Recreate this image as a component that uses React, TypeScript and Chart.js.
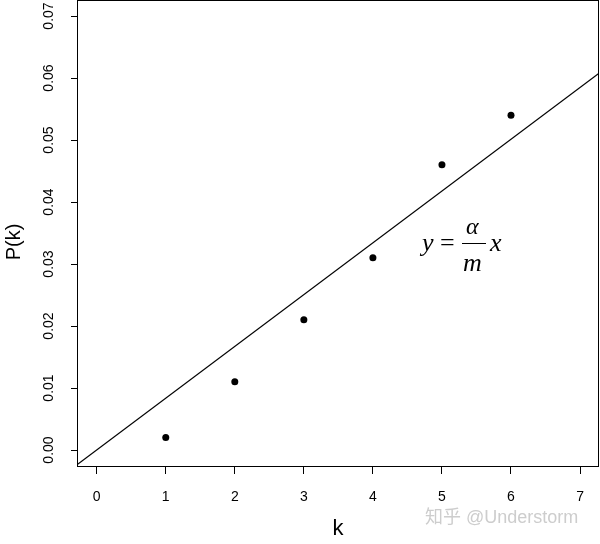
import React, { useEffect, useRef } from "react";
import { Chart, registerables } from "chart.js";

Chart.register(...registerables);

const kValues = [1, 2, 3, 4, 5, 6];
const pValues = [0.002, 0.011, 0.021, 0.031, 0.046, 0.054];
const lineK = [-0.3, 7.3];
const lineP = [-0.0025, 0.061];
const xTicks = [0, 1, 2, 3, 4, 5, 6, 7];
const yTicks = [0, 0.01, 0.02, 0.03, 0.04, 0.05, 0.06, 0.07];
const yTickLabels = ["0.00", "0.01", "0.02", "0.03", "0.04", "0.05", "0.06", "0.07"];
const xTitle = "k";
const yTitle = "P(k)";
const watermark = "知乎 @Understorm";

const extras = {
  id: "extras",
  afterDraw(chart: any) {
    const ctx = chart.ctx;
    const a = chart.chartArea;
    ctx.save();
    ctx.strokeStyle = "#000";
    ctx.lineWidth = 1;
    ctx.strokeRect(a.left - 0.5, a.top - 0.5, a.right - a.left + 1, a.bottom - a.top);
    // y axis title
    ctx.fillStyle = "#000";
    ctx.save();
    ctx.translate(14, 242);
    ctx.rotate(-Math.PI / 2);
    ctx.font = "20px 'Liberation Sans'";
    ctx.textAlign = "center";
    ctx.textBaseline = "middle";
    ctx.fillText(yTitle, 0, 0);
    ctx.restore();
    // equation
    ctx.font = "italic 26px 'Liberation Serif'";
    ctx.textBaseline = "alphabetic";
    ctx.textAlign = "left";
    ctx.fillText("y", 422, 251);
    ctx.fillText("x", 490, 251);
    ctx.fillText("m", 463, 271);
    ctx.font = "italic 24px 'Liberation Serif'";
    ctx.fillText("α", 466, 234);
    ctx.font = "26px 'Liberation Serif'";
    ctx.fillText("=", 440, 251);
    ctx.beginPath();
    ctx.moveTo(462, 243.5);
    ctx.lineTo(486, 243.5);
    ctx.stroke();
    // watermark
    ctx.font = "18px 'Liberation Sans', 'Noto Sans CJK SC'";
    ctx.fillStyle = "#cdcdcd";
    ctx.textAlign = "left";
    ctx.textBaseline = "middle";
    ctx.fillText(watermark, 425, 518);
    ctx.restore();
  },
};

export default function App() {
  const ref = useRef<HTMLCanvasElement | null>(null);
  useEffect(() => {
    if (!ref.current) return;
    const chart = new Chart(ref.current, {
      type: "scatter",
      data: {
        datasets: [
          {
            type: "scatter",
            data: kValues.map((k, i) => ({ x: k, y: pValues[i] })),
            backgroundColor: "#000",
            borderColor: "#000",
            pointRadius: 3.5,
            borderWidth: 0,
          },
          {
            type: "line",
            data: lineK.map((k, i) => ({ x: k, y: lineP[i] })),
            borderColor: "#000",
            borderWidth: 1.2,
            pointRadius: 0,
            fill: false,
          } as any,
        ],
      },
      options: {
        responsive: false,
        animation: false,
        devicePixelRatio: 1,
        layout: { autoPadding: false, padding: { top: 1, right: 2, left: 0, bottom: 0 } },
        plugins: { legend: { display: false }, tooltip: { enabled: false } },
        scales: {
          x: {
            type: "linear",
            min: -0.271,
            max: 7.26,
            afterBuildTicks: (s: any) => {
              s.ticks = xTicks.map((v) => ({ value: v }));
            },
            afterFit: (s: any) => {
              s.height = 77;
              s.paddingLeft = 0;
              s.paddingRight = 0;
            },
            grid: { drawOnChartArea: false, drawTicks: true, tickLength: 7, color: "#000" },
            border: { display: false },
            ticks: {
              color: "#000",
              font: { family: "'Liberation Sans'", size: 14 },
              padding: 15,
              maxRotation: 0,
              autoSkip: false,
              callback: (v: any) => String(v),
            },
            title: {
              display: true,
              text: xTitle,
              color: "#000",
              font: { family: "'Liberation Sans'", size: 22 },
              padding: { top: 0, bottom: 2 },
            },
          },
          y: {
            type: "linear",
            min: -0.00274,
            max: 0.07242,
            afterBuildTicks: (s: any) => {
              s.ticks = yTicks.map((v) => ({ value: v }));
            },
            afterFit: (s: any) => {
              s.width = 78;
              s.paddingTop = 0;
              s.paddingBottom = 0;
            },
            grid: { drawOnChartArea: false, drawTicks: true, tickLength: 7, color: "#000" },
            border: { display: false },
            ticks: {
              color: "#000",
              font: { family: "'Liberation Sans'", size: 14 },
              padding: 8,
              minRotation: 90,
              maxRotation: 90,
              crossAlign: "center",
              autoSkip: false,
              callback: (v: any) => {
                const i = yTicks.findIndex((t) => Math.abs(t - v) < 1e-9);
                return i >= 0 ? yTickLabels[i] : "";
              },
            },
            title: { display: false },
          },
        },
      },
      plugins: [extras],
    });
    return () => chart.destroy();
  }, []);
  return (
    <div style={{ position: "absolute", left: 0, top: 0, width: 600, height: 544, background: "#fff" }}>
      <canvas ref={ref} width={600} height={544} style={{ width: 600, height: 544, display: "block" }} />
    </div>
  );
}
